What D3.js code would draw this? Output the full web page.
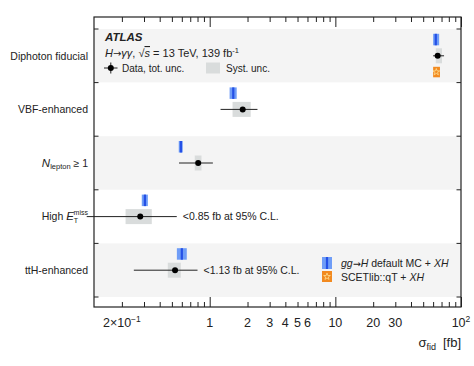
<!DOCTYPE html>
<html><head><meta charset="utf-8">
<script src="https://cdn.jsdelivr.net/npm/d3@7"></script>
<style>body{margin:0;background:#fff}svg{display:block}text{font-family:"Liberation Sans",Arial,Helvetica,sans-serif;fill:#222}.arr{font-family:"DejaVu Sans",sans-serif}</style>
</head><body><svg id="c" width="474" height="366"></svg>
<script>
// ---- data ----
const categories = ["Diphoton fiducial","VBF-enhanced","Nlepton","HighMET","ttH-enhanced"];
const dataVal  = [65.2, 1.83, 0.81, 0.28, 0.53];
const totLo    = [60.0, 1.22, 0.57, 0.105, 0.249];
const totHi    = [73.3, 2.40, 1.06, 0.547, 0.80];
const systLo   = [63.0, 1.52, 0.76, 0.214, 0.464];
const systHi   = [70.6, 2.12, 0.86, 0.346, 0.589];
const mcLo     = [60.0, 1.44, 0.567, 0.288, 0.548];
const mcHi     = [67.0, 1.64, 0.61, 0.322, 0.657];
const mcMid    = [63.0, 1.54, 0.59, 0.305, 0.60];
const scetLo   = [60.0];
const scetHi   = [68.0];
const scetMid  = [63.6];
const limits   = [null, null, null, "<0.85 fb at 95% C.L.", "<1.13 fb at 95% C.L."];
const majorTicks = [1, 10, 100];
const minorTicks = [0.2,0.3,0.4,0.5,0.6,0.7,0.8,0.9,2,3,4,5,6,7,8,9,20,30,40,50,60,70,80,90];
const tickLabels = [0.2,1,2,3,4,5,6,10,20,30,100];

// ---- layout ----
const svg = d3.select("#c");
const L=94, R=461, T=17, B=307;
const x = d3.scaleLog().domain([0.12,100]).range([L,R]);
const y = d3.scaleBand().domain(categories).range([29,297]);
const bw = y.bandwidth();
const cy = i => y(categories[i]) + bw/2;

// bands
svg.append("g").selectAll("rect").data(categories).join("rect")
  .attr("x",L).attr("width",R-L).attr("y",d=>y(d)).attr("height",bw)
  .attr("fill",(d,i)=> i%2===0 ? "#f4f4f4" : "#fff");

// syst boxes
svg.append("g").selectAll("rect").data(categories).join("rect")
  .attr("x",(d,i)=>x(systLo[i])).attr("width",(d,i)=>x(systHi[i])-x(systLo[i]))
  .attr("y",(d,i)=>cy(i)-7.5).attr("height",15).attr("fill","#d9dcdc");

// MC blue bars
const mc = svg.append("g");
mc.selectAll("rect.o").data(categories).join("rect").attr("class","o")
  .attr("x",(d,i)=>x(mcLo[i])).attr("width",(d,i)=>x(mcHi[i])-x(mcLo[i]))
  .attr("y",(d,i)=>cy(i)-22).attr("height",11.5).attr("fill","#6f9df7");
mc.selectAll("rect.c").data(categories).join("rect").attr("class","c")
  .attr("x",(d,i)=>x(mcMid[i])-1.1).attr("width",2.2)
  .attr("y",(d,i)=>cy(i)-22).attr("height",11.5).attr("fill","#2450e6");

// SCETlib orange
const sc = svg.append("g");
const star = d3.symbol().type(d3.symbolStar).size(14);
scetLo.forEach((v,i)=>{
  sc.append("rect").attr("x",x(v)).attr("width",x(scetHi[i])-x(v))
    .attr("y",cy(i)+11).attr("height",10.5).attr("fill","#f28a20");
  sc.append("path").attr("d",star()).attr("transform",`translate(${x(scetMid[i])},${cy(i)+16.2})`)
    .attr("fill","none").attr("stroke","#ffe9a0").attr("stroke-width",0.7);
});

// data error bars and points
const dg = svg.append("g");
dg.selectAll("line").data(categories).join("line")
  .attr("x1",(d,i)=>x(totLo[i])).attr("x2",(d,i)=>x(totHi[i]))
  .attr("y1",(d,i)=>cy(i)).attr("y2",(d,i)=>cy(i)).attr("stroke","#222").attr("stroke-width",1);
dg.selectAll("circle").data(categories).join("circle")
  .attr("cx",(d,i)=>x(dataVal[i])).attr("cy",(d,i)=>cy(i)).attr("r",3).attr("fill","#000");

// limit texts
limits.forEach((t,i)=>{ if(!t) return;
  svg.append("text").attr("x",x(totHi[i])+6).attr("y",cy(i)+3.8).attr("font-size",10.5).text(t);
});

// axes (inward ticks)
function ax(gen, sel){ sel.call(gen); sel.select(".domain").remove(); sel.selectAll("text").remove(); sel.selectAll("line").attr("stroke","#222"); }
ax(d3.axisBottom(x).tickValues(majorTicks).tickSize(-10), svg.append("g").attr("transform",`translate(0,${B})`));
ax(d3.axisBottom(x).tickValues(minorTicks).tickSize(-5), svg.append("g").attr("transform",`translate(0,${B})`));
ax(d3.axisTop(x).tickValues(majorTicks).tickSize(-10), svg.append("g").attr("transform",`translate(0,${T})`));
ax(d3.axisTop(x).tickValues(minorTicks).tickSize(-5), svg.append("g").attr("transform",`translate(0,${T})`));
const bounds = categories.map(d=>y(d)).concat([y(categories[categories.length-1])+bw]);
svg.append("g").selectAll("line").data(bounds).join("line")
  .attr("x1",L).attr("x2",L+4.5).attr("y1",d=>d).attr("y2",d=>d).attr("stroke","#222");
svg.append("g").selectAll("line").data(bounds).join("line")
  .attr("x1",R).attr("x2",R-4.5).attr("y1",d=>d).attr("y2",d=>d).attr("stroke","#222");

// frame
svg.append("rect").attr("x",L).attr("y",T).attr("width",R-L).attr("height",B-T)
  .attr("fill","none").attr("stroke","#222").attr("stroke-width",1.2);

// tick labels
const tl = svg.append("g").attr("font-size",12.5);
tickLabels.forEach(v=>{
  const t = tl.append("text").attr("x",x(v)).attr("y",327).attr("text-anchor","middle");
  if(v===0.2){ t.append("tspan").text("2×10"); t.append("tspan").attr("font-size",8.5).attr("dy",-5).text("−1"); }
  else if(v===100){ t.append("tspan").text("10"); t.append("tspan").attr("font-size",8.5).attr("dy",-5).text("2"); }
  else t.text(v);
});
// axis title
const at = svg.append("text").attr("x",R).attr("y",347).attr("text-anchor","end").attr("font-size",13);
at.append("tspan").text("σ");
at.append("tspan").attr("font-size",9).attr("dy",3).text("fid");
at.append("tspan").attr("dy",-3).attr("dx",7).text("[fb]");

// y labels
const yLab = svg.append("g").attr("font-size",10.5).attr("text-anchor","end");
categories.forEach((c,i)=>{
  const t = yLab.append("text").attr("x",88).attr("y",cy(i)+3.8);
  if(c==="Nlepton"){
    t.append("tspan").attr("font-style","italic").attr("font-size",11.5).text("N");
    t.append("tspan").attr("font-size",7.5).attr("dy",2.5).text("lepton");
    t.append("tspan").attr("dy",-2.5).text(" ≥ 1");
  } else if(c==="HighMET"){
    t.append("tspan").text("High ");
    t.append("tspan").attr("font-style","italic").attr("font-size",11.5).text("E");
    t.append("tspan").attr("font-size",7).attr("dy",3).text("T");
    t.append("tspan").attr("font-size",7).attr("dx",-4.5).attr("dy",-8.5).text("miss");
  } else t.text(c);
});

// top-left legend
svg.append("text").attr("x",105).attr("y",41).attr("font-size",11.5).attr("font-weight","bold").attr("font-style","italic").text("ATLAS");
const h = svg.append("text").attr("x",105).attr("y",57).attr("font-size",11);
h.append("tspan").attr("font-style","italic").text("H");
h.append("tspan").attr("class","arr").attr("font-size",10).text("→");
h.append("tspan").attr("font-style","italic").text("γγ");
h.append("tspan").text(", √");
h.append("tspan").attr("font-style","italic").attr("text-decoration","overline").text("s");
h.append("tspan").text(" = 13 TeV, 139 fb");
h.append("tspan").attr("font-size",7.5).attr("dy",-4).text("-1");
svg.append("line").attr("x1",104).attr("x2",117.5).attr("y1",68).attr("y2",68).attr("stroke","#222");
svg.append("line").attr("x1",110.8).attr("x2",110.8).attr("y1",62.5).attr("y2",73.5).attr("stroke","#222");
svg.append("circle").attr("cx",110.8).attr("cy",68).attr("r",3).attr("fill","#000");
svg.append("text").attr("x",122).attr("y",71.5).attr("font-size",10).text("Data, tot. unc.");
svg.append("rect").attr("x",206).attr("y",62.5).attr("width",14).attr("height",11).attr("fill","#d9dcdc");
svg.append("text").attr("x",226).attr("y",71.5).attr("font-size",10).text("Syst. unc.");

// bottom-right legend
svg.append("rect").attr("x",322).attr("y",257).attr("width",10).attr("height",12).attr("fill","#6f9df7");
svg.append("rect").attr("x",325.9).attr("y",257).attr("width",2.2).attr("height",12).attr("fill","#2450e6");
const l1 = svg.append("text").attr("x",341).attr("y",267).attr("font-size",10.5);
l1.append("tspan").attr("font-style","italic").text("gg");
l1.append("tspan").attr("class","arr").attr("font-size",9.5).text("→");
l1.append("tspan").attr("font-style","italic").text("H");
l1.append("tspan").text(" default MC + ");
l1.append("tspan").attr("font-style","italic").text("XH");
svg.append("rect").attr("x",322).attr("y",271).attr("width",10).attr("height",11).attr("fill","#f28a20");
svg.append("path").attr("d",star()).attr("transform","translate(327,276.6)").attr("fill","none").attr("stroke","#ffe9a0").attr("stroke-width",0.7);
const l2 = svg.append("text").attr("x",341).attr("y",280.5).attr("font-size",10.5);
l2.append("tspan").text("SCETlib::qT + ");
l2.append("tspan").attr("font-style","italic").text("XH");
</script></body></html>
